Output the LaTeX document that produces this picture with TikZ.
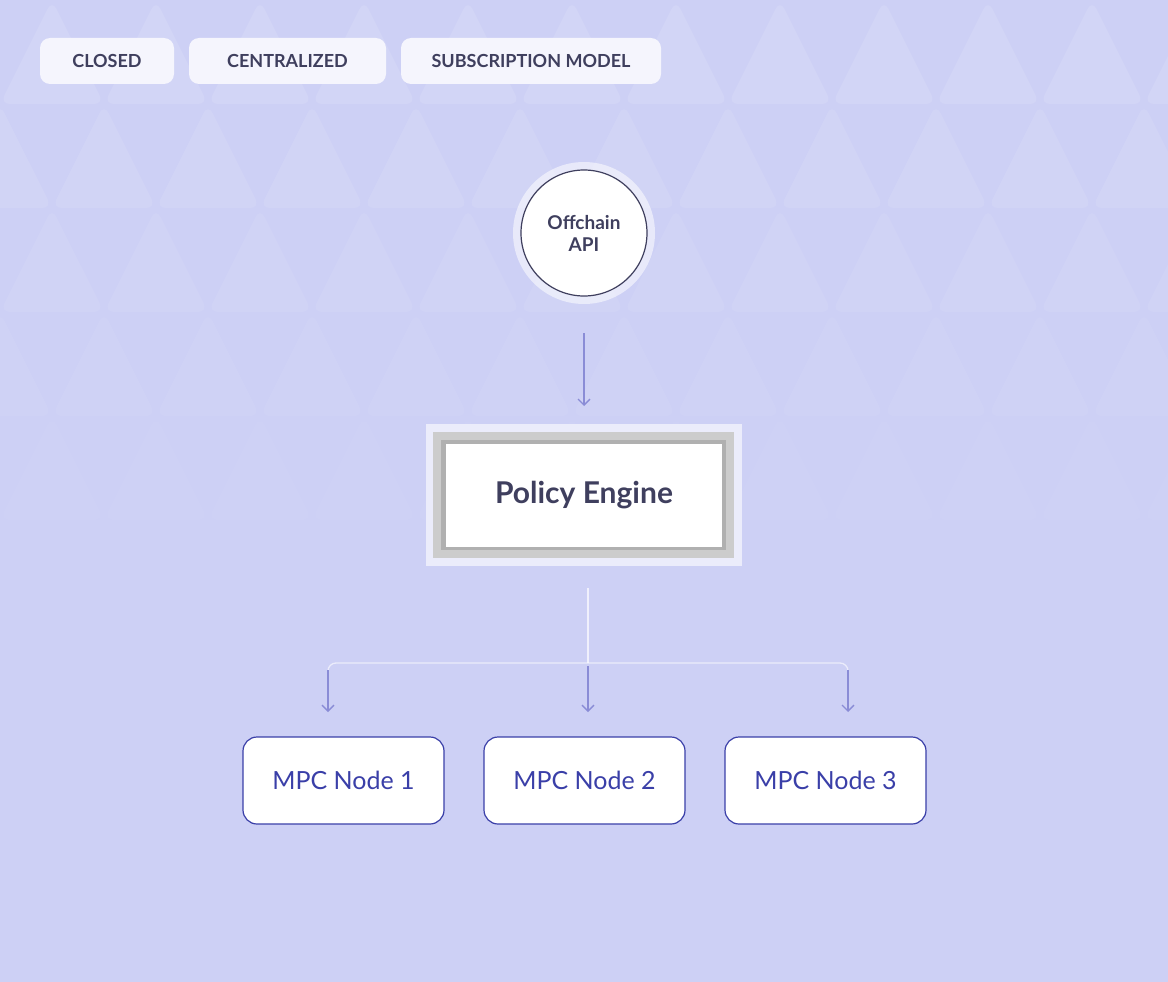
\documentclass[tikz,border=0pt]{standalone}
\usepackage{fontspec}
\setmainfont{Lato}
\definecolor{bg}{HTML}{CDD0F5}
\definecolor{tagfill}{HTML}{F5F5FD}
\definecolor{ink}{HTML}{3F3F5E}
\definecolor{arr}{HTML}{8A8CD6}
\definecolor{mpc}{HTML}{3A3FA8}
\tikzset{
  tag/.style={draw=none,fill=tagfill,rounded corners=10pt,minimum height=46pt,text=ink,font=\fontsize{18}{20}\selectfont\bfseries},
  mpcbox/.style={draw=mpc,line width=1.2pt,fill=white,rounded corners=14pt,minimum width=201pt,minimum height=87pt,text=mpc,font=\fontsize{25}{28}\selectfont},
  flow/.style={draw=arr,line width=1.3pt,-{Straight Barb[length=6pt,width=12pt]}},
}
\usetikzlibrary{arrows.meta}
\begin{document}
\begin{tikzpicture}[x=1pt,y=-1pt]
\fill[bg] (0,0) rectangle (1168,982);
\useasboundingbox (0,0) rectangle (1168,982);
% faint triangle pattern, fading downwards
\foreach \r in {0,...,4}{
  \foreach \c in {-1,...,11}{
    \pgfmathsetmacro{\xo}{\c*104 + mod(\r,2)*52}
    \pgfmathsetmacro{\yo}{\r*104}
    \pgfmathsetmacro{\op}{0.11-0.02*\r}
    \fill[white,opacity=\op,rounded corners=10pt] (\xo,\yo+104) -- (\xo+52,\yo) -- (\xo+104,\yo+104) -- cycle;
  }
}
% tags
\node[tag,minimum width=134pt] (t1) at (107,61) {CLOSED};
\node[tag,minimum width=197pt] (t2) at (287.5,61) {CENTRALIZED};
\node[tag,minimum width=260pt] (t3) at (531,61) {SUBSCRIPTION MODEL};
% circle
\fill[white,opacity=0.55] (584,233) circle (71);
\node[circle,draw=ink,line width=1.2pt,fill=white,minimum size=126pt,text=ink,align=center,font=\fontsize{19}{22}\selectfont\bfseries] (api) at (584,233) {Offchain\\API};
% policy engine
\fill[white,opacity=0.6] (426,424) rectangle (742,566);
\fill[black!20] (433,432) rectangle (734,558);
\fill[black!31] (441,440) rectangle (726,550);
\node[fill=white,minimum width=276pt,minimum height=103pt,inner sep=0pt,text=ink,font=\fontsize{30}{34}\selectfont\bfseries] (pe) at (584,495.5) {Policy Engine};
% arrows
\coordinate (a0) at (584,333);
\coordinate (a1) at (584,406);
\draw[flow] (a0) -- (a1);
\coordinate (b0) at (588,588);
\coordinate (bj) at (588,663);
\draw[white,opacity=0.7,line width=1.3pt] (b0) -- (bj);
\draw[white,opacity=0.6,line width=1.3pt,rounded corners=8pt] (328,676) -- (328,663) -- (848,663) -- (848,676);
\node[mpcbox] (m1) at (343.5,780.5) {MPC Node 1};
\node[mpcbox] (m2) at (584.5,780.5) {MPC Node 2};
\node[mpcbox] (m3) at (825.5,780.5) {MPC Node 3};
\coordinate (c1) at (328,670);
\coordinate (c2) at (588,666);
\coordinate (c3) at (848,670);
\draw[flow] (c1) -- (328,712);
\draw[flow] (c2) -- (588,712);
\draw[flow] (c3) -- (848,712);
\end{tikzpicture}
\end{document}
